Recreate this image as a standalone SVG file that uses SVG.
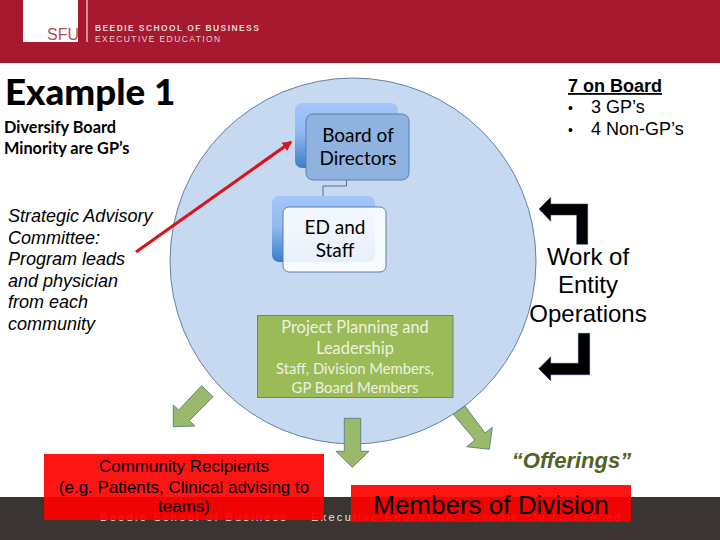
<svg xmlns="http://www.w3.org/2000/svg" width="720" height="540" viewBox="0 0 720 540">
<style>
.c{font-family:"Lato","Open Sans","Liberation Sans",sans-serif}
.a{font-family:"Liberation Sans",Arial,sans-serif}
text{fill:#000}
.m{text-anchor:middle}
.w{fill:#eef2e0}
.g{fill:#9bb96a;stroke:#66858a;stroke-width:1}
.k{fill:#000;stroke:#1f3864;stroke-width:.5}
.r{fill:#ff0000;fill-opacity:.92}
.n{stroke:#5b7fae;stroke-width:1}
</style>
<defs>
<linearGradient id="bk" x1="0" y1="0" x2="0" y2="1"><stop offset="0" stop-color="#a3c6fb"/><stop offset=".45" stop-color="#92baf2"/><stop offset="1" stop-color="#3c7cca"/></linearGradient>
<marker id="ah" markerWidth="4" markerHeight="4" refX="2.6" refY="1.6" orient="auto"><path d="M0 0L3 1.6L0 3.2Z" fill="#d8141e"/></marker>
</defs>
<rect width="720" height="540" fill="#fff"/>
<g id="header">
<rect width="720" height="63" fill="#a6192e"/>
<rect x="23" y="0" width="55" height="42" fill="#fff"/>
<rect x="86" y="0" width="2" height="42" fill="#d98a94"/>
<text x="47" y="40" class="a" font-size="16" style="fill:#a85060">SFU</text>
<text x="95" y="31" class="a" font-size="8.5" font-weight="700" letter-spacing="1.4" style="fill:#e8d3d6">BEEDIE SCHOOL OF BUSINESS</text>
<text x="95" y="42" class="a" font-size="8.5" letter-spacing="1.4" style="fill:#e8d3d6">EXECUTIVE EDUCATION</text>
</g>
<g id="footer">
<rect y="497" width="720" height="43" fill="#3a3533"/>
<text x="100" y="521" class="a" font-size="11" letter-spacing="2.3" style="fill:#e8e4e0">Beedie School of Business</text>
<text x="311" y="521" class="a" font-size="11" letter-spacing="2.3" style="fill:#e8e4e0">Executive Education</text>
<text x="473" y="521" class="a" font-size="11" letter-spacing="2.3" style="fill:#e8e4e0">beedie.sfu.ca/execed</text>
</g>
<g id="title">
<text x="5" y="105" class="c" font-size="36.700" font-weight="900">Example 1</text>
<text x="4" y="133" class="c" font-size="16.300" font-weight="700">Diversify Board</text>
<text x="4" y="154" class="c" font-size="16.300" font-weight="700">Minority are GP’s</text>
</g>
<g id="advisory" class="a" font-size="18" font-style="italic">
<text x="8" y="222">Strategic Advisory</text>
<text x="8" y="244">Committee:</text>
<text x="8" y="265">Program leads</text>
<text x="8" y="287">and physician</text>
<text x="8" y="308">from each</text>
<text x="8" y="330">community</text>
</g>
<g id="circle"><circle cx="353" cy="261" r="183" fill="#c6d9f1" stroke="#5f83a8" stroke-width="1"/></g>
<g id="connectors">
<path d="M346.500 180V186H323V196" fill="none" stroke="#4f6f98"/>
<path d="M136 252L291 142" fill="none" stroke="#d8141e" stroke-width="3.200" marker-end="url(#ah)"/>
</g>
<g id="board">
<rect x="295" y="103" width="103" height="65" rx="7" fill="url(#bk)"/>
<rect x="306" y="114" width="103" height="66" rx="7" fill="#8fb2df" class="n"/>
<text x="358" y="142" class="c m" font-size="19">Board of</text>
<text x="358" y="165" class="c m" font-size="19">Directors</text>
</g>
<g id="ed">
<rect x="272" y="196" width="103" height="66" rx="7" fill="url(#bk)"/>
<rect x="283" y="207" width="103" height="65" rx="6" fill="#fff" fill-opacity=".88" class="n"/>
<text x="335" y="234" class="c m" font-size="19">ED and</text>
<text x="335" y="257" class="c m" font-size="19">Staff</text>
</g>
<g id="planning">
<rect x="257.500" y="315.500" width="195.500" height="82" fill="#9bbb59" stroke="#66858a"/>
<text x="355" y="333" class="c m w" font-size="16.400">Project Planning and</text>
<text x="355" y="354" class="c m w" font-size="16.400">Leadership</text>
<text x="355" y="374" class="c m w" font-size="14.800">Staff, Division Members,</text>
<text x="355" y="393" class="c m w" font-size="14.800">GP Board Members</text>
</g>
<g id="boardlist" class="a" font-size="18">
<text x="568" y="92" font-weight="700" text-decoration="underline">7 on Board</text>
<text x="568" y="113" font-size="14">•</text><text x="591" y="113">3 GP’s</text>
<text x="568" y="135" font-size="14">•</text><text x="591" y="135">4 Non-GP’s</text>
</g>
<g id="work" class="a m" font-size="24">
<text x="588" y="265">Work of</text>
<text x="588" y="293">Entity</text>
<text x="588" y="322">Operations</text>
</g>
<g id="work-arrows">
<path class="k" d="M539 209L550.700 197.300V204H587.700V244.300H576.700V215H550.700V221.300Z"/>
<path class="k" d="M538.700 368.700L550.700 356.700V363.300H578.300V333.300H589.700V374.700H550.700V380.700Z"/>
</g>
<g id="green-arrows">
<path class="g" d="M201.700 385.700L213 396.700L189.300 420.700L195 426L173.300 426.700V405L178.700 410Z"/>
<path class="g" d="M344.300 418.300H360.700V451.300H369L352.300 467.300L336 451.300H344.300Z"/>
<path class="g" d="M453.300 414.300L465 406L485 433L492.300 427.300L489.300 449.300L466.700 446.700L475 440Z"/>
</g>
<g id="offerings"><text x="571.500" y="468" class="a m" font-size="22" font-weight="700" font-style="italic" style="fill:#4f6228">“Offerings”</text></g>
<g id="recipients">
<rect class="r" x="44" y="454" width="280" height="66"/>
<g class="a m" font-size="17">
<text x="184" y="472">Community Recipients</text>
<text x="184" y="493">(e.g. Patients, Clinical advising to</text>
<text x="184" y="512">teams)</text>
</g>
</g>
<g id="members">
<rect class="r" x="351" y="485" width="280" height="37"/>
<text x="491" y="514" class="a m" font-size="26">Members of Division</text>
</g>
</svg>
